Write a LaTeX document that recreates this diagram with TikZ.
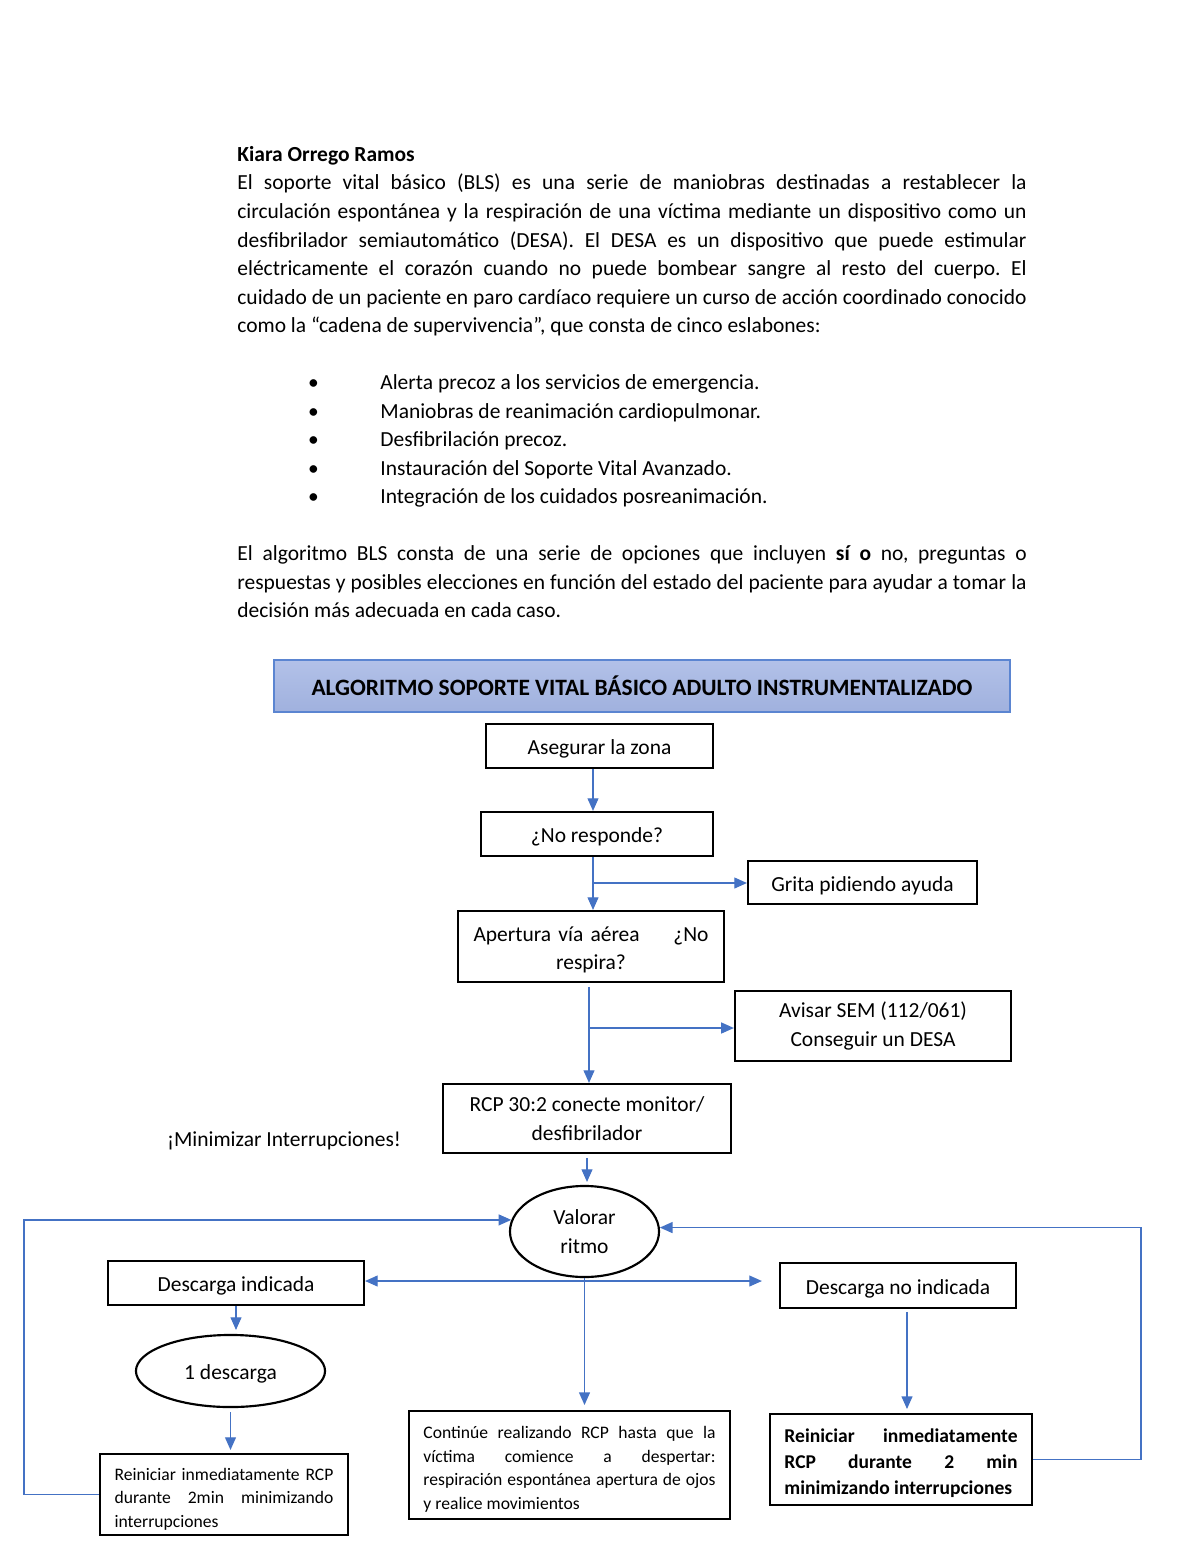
\documentclass[tikz,border=0pt]{standalone}
\usepackage{fontspec}
\setmainfont{Carlito}
\usetikzlibrary{arrows.meta,shapes.geometric,calc}

\definecolor{flowblue}{HTML}{4472C4}
\definecolor{titleedge}{HTML}{5B85D1}
\definecolor{titletop}{RGB}{178,193,232}
\definecolor{titlebottom}{RGB}{160,177,222}

\begin{document}
\begin{tikzpicture}[x=0.5119pt, y=-0.5119pt,
            inner sep=2pt,
            every node/.style={font=\fontsize{11pt}{14.6pt}\selectfont},
            lowtext/.style = {execute at begin node={\rule{0pt}{10.8pt}}},
            box/.style = {draw, line width=1.1pt, minimum height=22.5pt, lowtext},
            oval/.style = {draw, ellipse, line width=1.1pt, inner sep=0pt, lowtext},
            flow/.style = {draw=flowblue, line width=0.7pt,
                -{Triangle[length=6.5pt, width=5.6pt]}},
            smallbox/.style = {box, align=justify, inner xsep=7.5pt,
                font=\fontsize{9pt}{12pt}\selectfont},
            ]
            \useasboundingbox (0,0) rectangle (1200,1553);

            % texto de la hoja
            \node[anchor=north west, inner sep=0pt, text width=404pt, align=justify] (intro) at (237,146)
                {\parindent=0pt \parskip=0pt \hyphenpenalty=10000 \tolerance=10000 \frenchspacing
                \textbf{Kiara Orrego Ramos}\par
                El soporte vital básico (BLS) es una serie de maniobras destinadas a restablecer la\linebreak
                circulación espontánea y la respiración de una víctima mediante un dispositivo como un\linebreak
                desfibrilador semiautomático (DESA). El DESA es un dispositivo que puede estimular\linebreak
                eléctricamente el corazón cuando no puede bombear sangre al resto del cuerpo. El\linebreak
                cuidado de un paciente en paro cardíaco requiere un curso de acción coordinado conocido\linebreak
                como la “cadena de supervivencia”, que consta de cinco eslabones:\par
                \vspace{14.6pt}
                \hspace*{36.2pt}\makebox[37pt][l]{•}Alerta precoz a los servicios de emergencia.\par
                \hspace*{36.2pt}\makebox[37pt][l]{•}Maniobras de reanimación cardiopulmonar.\par
                \hspace*{36.2pt}\makebox[37pt][l]{•}Desfibrilación precoz.\par
                \hspace*{36.2pt}\makebox[37pt][l]{•}Instauración del Soporte Vital Avanzado.\par
                \hspace*{36.2pt}\makebox[37pt][l]{•}Integración de los cuidados posreanimación.\par
                \vspace{14.6pt}
                El algoritmo BLS consta de una serie de opciones que incluyen \textbf{sí o} no, preguntas o\linebreak
                respuestas y posibles elecciones en función del estado del paciente para ayudar a tomar la\linebreak
                decisión más adecuada en cada caso.\par};

            % algoritmo
            \node[draw=titleedge, line width=0.8pt, top color=titletop, bottom color=titlebottom,
                minimum width=376.8pt, minimum height=26.6pt, font=\fontsize{12pt}{14pt}\selectfont\bfseries] (title) at (642,686)
                {ALGORITMO SOPORTE VITAL BÁSICO ADULTO INSTRUMENTALIZADO};

            \node[box, minimum width=116.2pt] (ase) at (599.5,746) {Asegurar la zona};
            \node[box, minimum width=118.8pt] (resp) at (597,834) {¿No responde?};
            \node[box, minimum width=117.2pt, minimum height=22pt] (grita) at (862.5,882.5) {Grita pidiendo ayuda};
            \node[box, minimum width=136.2pt, minimum height=36.3pt, text width=120.3pt, align=center] (apert) at (591,946.5)
                {Apertura vía aérea\hfill¿No\\respira?};
            \node[box, minimum width=141.3pt, minimum height=35.8pt, align=center] (avisar) at (873,1026)
                {Avisar SEM (112/061)\\Conseguir un DESA};
            \node[box, minimum width=147.4pt, minimum height=35.3pt, align=center] (rcp) at (587,1118.5)
                {RCP 30:2 conecte monitor/\\desfibrilador};
            \node[lowtext] (minim) at (284,1138) {¡Minimizar Interrupciones!};
            \node[oval, minimum width=76.3pt, minimum height=46.6pt, align=center] (val) at (584.5,1231.5)
                {Valorar\\ritmo};
            \node[box, minimum width=131pt] (descInd) at (236,1283) {Descarga indicada};
            \node[box, minimum width=120.8pt, minimum height=23pt] (descNo) at (898,1285.5) {Descarga no indicada};
            \node[oval, minimum width=96.8pt, minimum height=36.9pt] (desc1) at (230.5,1371) {1 descarga};
            \node[smallbox, text width=112pt, minimum height=41.5pt] (reinL) at (224,1494.5)
                {Reiniciar inmediatamente RCP\linebreak durante 2min minimizando\linebreak interrupciones};
            \node[smallbox, text width=149.5pt, minimum height=55.3pt] (cont) at (569.5,1465)
                {Continúe realizando RCP hasta que la\linebreak víctima comience a despertar:\linebreak
                {\spaceskip=1.1pt plus 1pt minus 0.3pt respiración espontánea apertura de ojos}\linebreak y realice movimientos};
            \node[box, text width=119.3pt, inner xsep=7.4pt, minimum height=46.6pt, align=justify,
                font=\fontsize{10pt}{13.3pt}\selectfont\bfseries] (reinR) at (901,1459.5)
                {Reiniciar inmediatamente\linebreak RCP durante 2 min\linebreak minimizando interrupciones};

            % conexiones
            \coordinate (j1) at (593,883);
            \coordinate (j2) at (589,1028);
            \coordinate (vb) at (584,1281);

            \draw[flow] (ase.south -| j1) -- (resp.north -| j1);
            \draw[flow] (resp.south -| j1) -- (apert.north -| j1);
            \draw[flow] (j1) -- (grita.west |- j1);
            \draw[flow, shorten <=2pt] (apert.south -| j2) -- (rcp.north -| j2);
            \draw[flow] (j2) -- (avisar.west |- j2);
            \draw[flow, shorten <=2pt, shorten >=1.5pt] (rcp.south) -- (rcp.south |- val.north);
            \draw[flow] (vb) -- (descInd.east |- vb);
            \draw[flow, shorten >=8.7pt] (vb) -- (descNo.west |- vb);
            \draw[flow, shorten >=2.5pt] (val.south) -- (cont.north -| val.south);
            \draw[flow, shorten >=2pt] (descInd.south) -- (descInd.south |- desc1.north);
            \draw[flow, shorten <=2pt, shorten >=1.5pt] (desc1.south) -- (desc1.south |- reinL.north);
            \draw[flow, shorten <=1.5pt, shorten >=2pt] ($(descNo.south)+(9,0)$) -- ($(reinR.north)+(6,0)$);
            \draw[flow] (reinL.west) -- ++(-75,0) |- (val.171);
            \draw[flow] (reinR.east) -- ++(108,0) |- (val.3);
        \end{tikzpicture}
\end{document}
